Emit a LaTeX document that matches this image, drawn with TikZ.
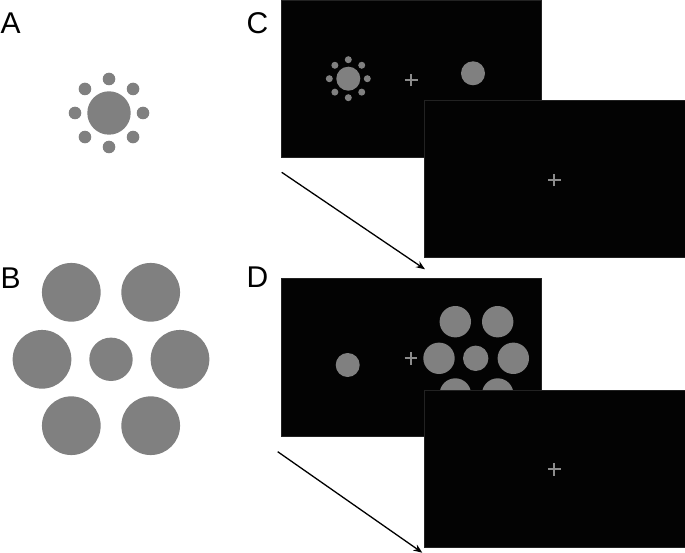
\documentclass[tikz,border=0pt]{standalone}
\usepackage{fontspec}
\setmainfont{Liberation Sans}
\usetikzlibrary{arrows.meta,shapes.misc,calc}
\definecolor{discgray}{HTML}{808080}
\definecolor{crossgray}{HTML}{8C8C8C}
\definecolor{screenblack}{HTML}{030303}
\definecolor{screenedge}{HTML}{222222}
\tikzset{
  disc/.style={circle, fill=discgray, draw=none, inner sep=0pt, minimum size=#1},
  screen/.style={fill=screenblack, draw=screenedge, line width=0.8pt},
  fixcross/.style={cross out, rotate=45, draw=crossgray, line width=2pt, inner sep=0pt, minimum size=7pt},
  panellabel/.style={inner sep=0pt, anchor=north west, font=\fontsize{30}{31}\selectfont},
  timearrow/.style={draw=black, line width=1.3pt, -{Stealth[length=9pt,width=7pt]}}
}
\begin{document}
\begin{tikzpicture}[x=1pt,y=-1pt]
\useasboundingbox (0,0) rectangle (685,553);
% ---------- Panel A ----------
\node[panellabel] (labA) at (0.5,12.5) {A};
\node[disc=43.4pt] (Ac) at (109,113) {};
\foreach \a [count=\i] in {0,45,...,315}
  \node[disc=12.6pt] (Ad\i) at ($(109,113)+(\a:34)$) {};
% ---------- Panel B ----------
\node[panellabel] (labB) at (0.5,268) {B};
\node[disc=43.4pt] (Bc) at (111,359.3) {};
\node[disc=58.7pt] (Btl) at (71.3,292.3) {};
\node[disc=58.7pt] (Btr) at (150.7,292.3) {};
\node[disc=58.7pt] (Bl) at (42,359.3) {};
\node[disc=58.7pt] (Br) at (180,359.3) {};
\node[disc=58.7pt] (Bbl) at (71.3,425.7) {};
\node[disc=58.7pt] (Bbr) at (150.7,425.7) {};
% ---------- Panel C ----------
\node[panellabel] (labC) at (246.5,12.5) {C};
\path[screen] (281.7,0) rectangle (541.7,157.7);
\node[disc=24pt] (Cc) at (348.3,78.7) {};
\foreach \a [count=\i] in {0,45,...,315}
  \node[disc=7pt] (Cd\i) at ($(348.3,78.7)+(\a:19)$) {};
\node[disc=24pt] (Cr) at (473,73.3) {};
\node[fixcross] (Cx1) at (411.3,80) {};
\path[screen] (424.3,100) rectangle (685,257.7);
\node[fixcross] (Cx2) at (554.3,180) {};
\coordinate (Ca0) at (281.7,172.3);
\coordinate (Ca1) at (425,269.3);
\draw[timearrow] (Ca0) -- (Ca1);
% ---------- Panel D ----------
\node[panellabel] (labD) at (246.5,267) {D};
\path[screen] (281,278.3) rectangle (541.7,436);
\node[disc=24pt] (Dl) at (347.7,365) {};
\node[fixcross] (Dx1) at (411,358.3) {};
\node[disc=25.4pt] (Dc) at (475.7,358.3) {};
\node[disc=31.4pt] (Dtl) at (455.3,321.7) {};
\node[disc=31.4pt] (Dtr) at (497.7,321.7) {};
\node[disc=31.4pt] (Dml) at (439,358.3) {};
\node[disc=31.4pt] (Dmr) at (513.3,358.3) {};
\node[disc=31.4pt] (Dbl) at (455.3,394) {};
\node[disc=31.4pt] (Dbr) at (497.7,394) {};
\path[screen] (424.3,390) rectangle (685,547.3);
\node[fixcross] (Dx2) at (554.3,469.3) {};
\coordinate (Da0) at (277.7,451.7);
\coordinate (Da1) at (422.3,552.7);
\draw[timearrow] (Da0) -- (Da1);
\end{tikzpicture}
\end{document}
